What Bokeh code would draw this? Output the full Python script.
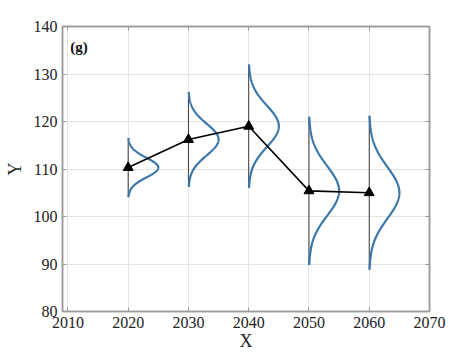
import numpy as np
from bokeh.plotting import figure
from bokeh.models import (LinearAxis, FixedTicker, Range1d, Label, ColumnDataSource,
                          CustomLabelingPolicy)
from bokeh.embed import file_html
from bokeh.resources import INLINE

# data
years = [2020, 2030, 2040, 2050, 2060]
means = [110.3, 116.2, 119.0, 105.4, 105.0]
sigmas = [2.07, 3.33, 4.33, 5.2, 5.4]
x_ticks = [2010, 2020, 2030, 2040, 2050, 2060, 2070]
y_ticks = [80, 90, 100, 110, 120, 130, 140]
panel_label = "(g)"
curve_width = 5.0  # years of horizontal extent of each density curve

FONT = "Liberation Serif"
BLUE = "#3b77aa"
FRAME = "#9a9a9a"

p = figure(width=466, height=354, output_backend="svg", toolbar_location=None,
           x_range=Range1d(2009.1, 2070), y_range=Range1d(80, 140),
           min_border_left=62, min_border_right=37, min_border_top=26, min_border_bottom=43)

p.outline_line_color = FRAME
p.outline_line_width = 1.5
p.background_fill_color = "white"

# densities
for yr, mu, sd in zip(years, means, sigmas):
    yy = np.linspace(mu - 3 * sd, mu + 3 * sd, 200)
    pdf = np.exp(-0.5 * ((yy - mu) / sd) ** 2)
    xx = yr + curve_width * pdf / pdf.max()
    p.line([yr, yr], [yy[0], yy[-1]], line_color="#3a3a3a", line_width=1)
    p.line(xx, yy, line_color=BLUE, line_width=2.2)

src = ColumnDataSource(dict(x=years, y=means))
p.line("x", "y", source=src, line_color="black", line_width=1.6)
p.scatter("x", "y", source=src, marker="triangle", size=10, fill_color="black", line_color="black")

# axes styling
def style_axis(ax):
    ax.major_tick_in = 4
    ax.major_tick_out = 0
    ax.minor_tick_line_color = None
    ax.major_tick_line_color = FRAME
    ax.axis_line_color = FRAME
    ax.axis_line_width = 1.5
    ax.major_label_text_font = FONT
    ax.major_label_text_font_size = "16px"
    ax.major_label_text_color = "#222222"
    ax.axis_label_text_font = FONT
    ax.axis_label_text_font_size = "18px"
    ax.axis_label_text_font_style = "normal"
    ax.axis_label_text_color = "#222222"

xa = p.xaxis[0]
ya = p.yaxis[0]
xa.ticker = FixedTicker(ticks=x_ticks)
ya.ticker = FixedTicker(ticks=y_ticks)
xa.axis_label = "X"
ya.axis_label = "Y"
style_axis(xa)
style_axis(ya)
xa.major_label_standoff = 5
ya.major_label_standoff = 5
xa.axis_label_standoff = 0
ya.axis_label_standoff = 6

hide = "for (const i of Array.from(indices)) { indices.unset(i) }; return indices"
top = LinearAxis(ticker=FixedTicker(ticks=x_ticks))
style_axis(top)
top.major_label_policy = CustomLabelingPolicy(code=hide)
top.major_label_standoff = 0
p.add_layout(top, "above")
right = LinearAxis(ticker=FixedTicker(ticks=y_ticks))
style_axis(right)
right.major_label_policy = CustomLabelingPolicy(code=hide)
right.major_label_standoff = 0
p.add_layout(right, "right")

p.xgrid.ticker = FixedTicker(ticks=x_ticks)
p.ygrid.ticker = FixedTicker(ticks=y_ticks)
p.grid.grid_line_color = "#e4e4e4"
p.grid.grid_line_width = 1

p.add_layout(Label(x=2010.4, y=135.6, text=panel_label, text_font=FONT,
                   text_font_style="bold", text_font_size="15px",
                   text_baseline="middle", text_align="left", text_color="#111111"))

open("out.html", "w").write(file_html(p, INLINE))
